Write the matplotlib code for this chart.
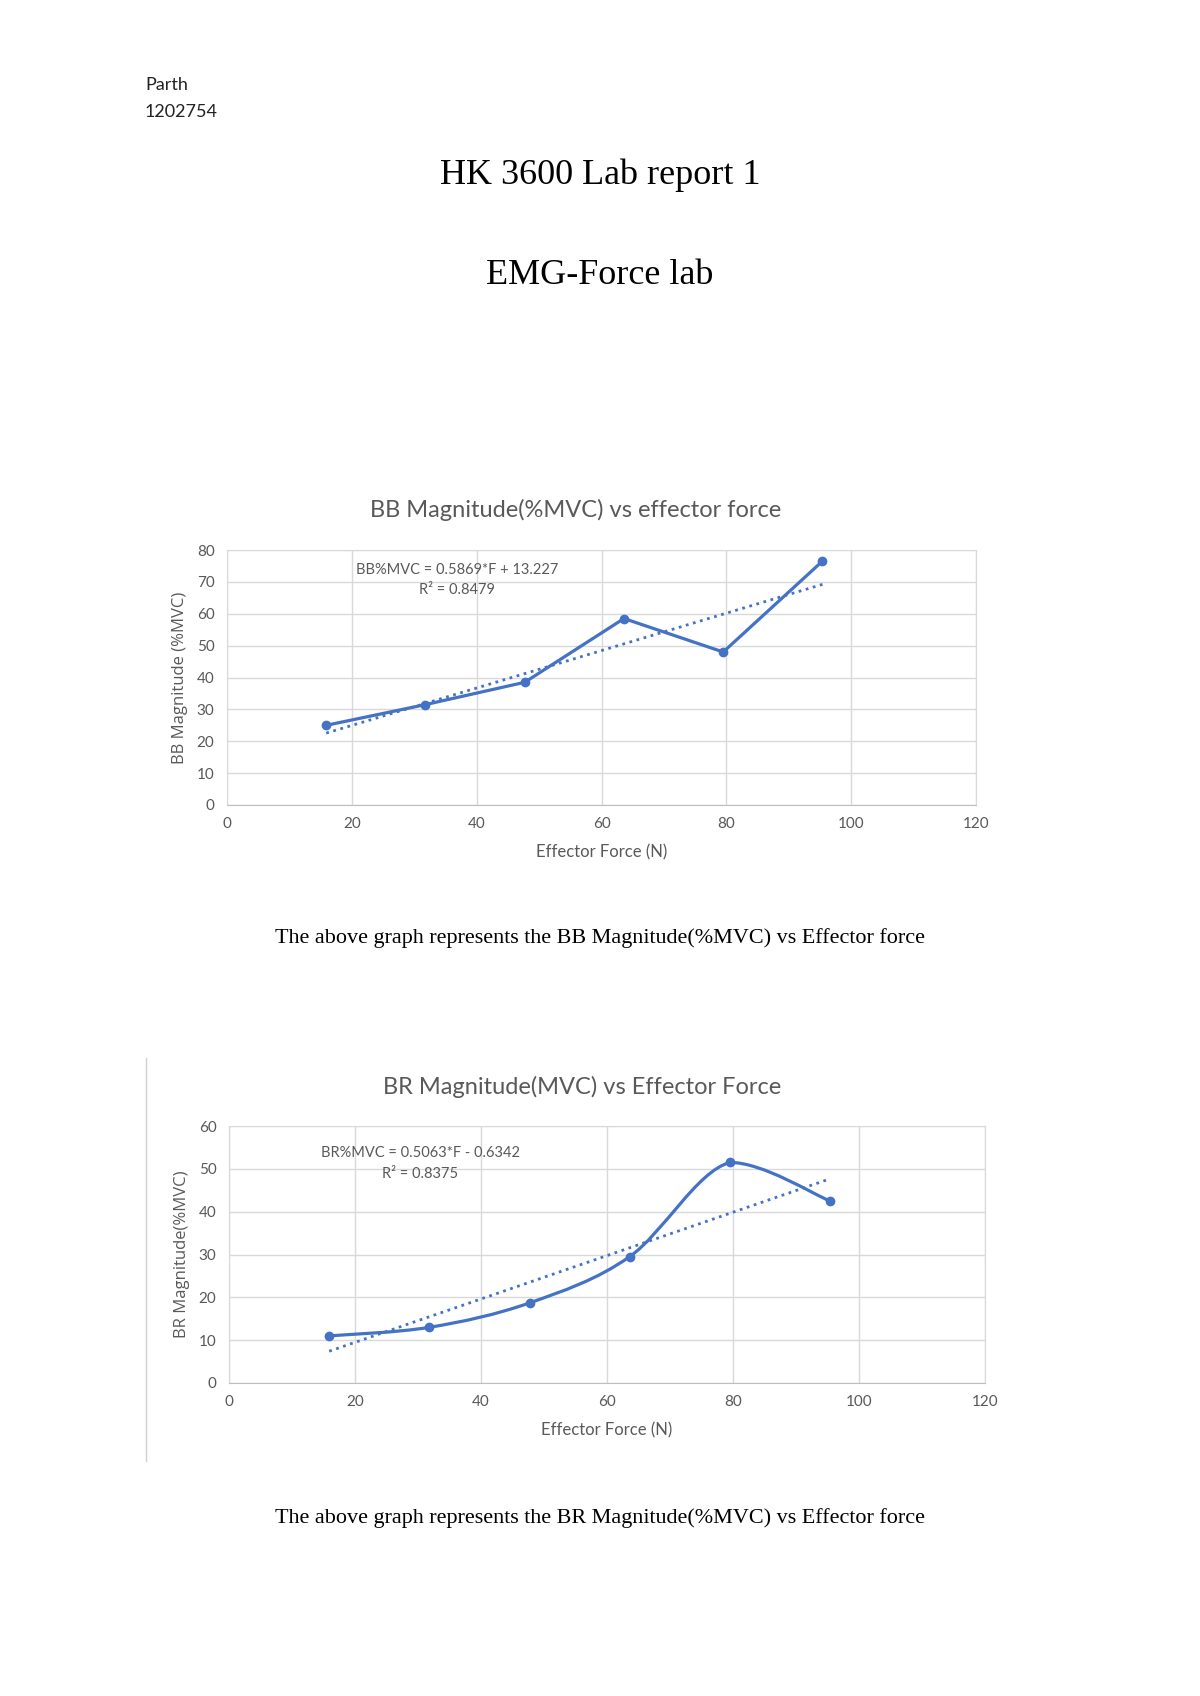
import numpy as np
import matplotlib
matplotlib.use("Agg")
import matplotlib.pyplot as plt
from matplotlib.path import Path
from matplotlib.patches import PathPatch

# donnees
force = [15.9, 31.8, 47.7, 63.6, 79.5, 95.4]
bb_mvc = [25.0, 31.5, 38.5, 58.5, 48.0, 76.5]
br_mvc = [11.0, 13.0, 18.7, 29.5, 51.5, 42.5]

bb_slope, bb_icpt = 0.5869, 13.227
br_slope, br_icpt = 0.5063, -0.6342

BLUE = "#4472C4"
GREY = "#595959"
GRID = "#D9D9D9"
CHART_FONT = ["Lato", "DejaVu Sans"]
SERIF = ["Liberation Serif", "DejaVu Serif"]


def smooth_path(x, y):
    # courbe lissee facon excel (bezier), sans depasser les points
    pts = np.column_stack([x, y]).astype(float)
    n = len(pts)
    verts = [pts[0]]
    codes = [Path.MOVETO]
    for i in range(n - 1):
        p0 = pts[max(i - 1, 0)]
        p1 = pts[i]
        p2 = pts[i + 1]
        p3 = pts[min(i + 2, n - 1)]
        c1 = p1 + (p2 - p0) / 6.0
        c2 = p2 - (p3 - p1) / 6.0
        lo, hi = min(p1[1], p2[1]), max(p1[1], p2[1])
        c1[1] = np.clip(c1[1], lo, hi)
        c2[1] = np.clip(c2[1], lo, hi)
        verts += [c1, c2, p2]
        codes += [Path.CURVE4] * 3
    return Path(verts, codes)


def draw_chart(rect, x, y, slope, icpt, ymax, title, tpos, ylabel, eq, r2, eqpos, smooth):
    ax = fig.add_axes(rect)
    ax.set_xlim(0, 120)
    ax.set_ylim(0, ymax)
    ax.set_xticks(np.arange(0, 121, 20))
    ax.set_yticks(np.arange(0, ymax + 1, 10))
    ax.grid(True, color=GRID, lw=1)
    ax.set_axisbelow(True)
    for s in ax.spines.values():
        s.set_color(GRID)
    ax.spines["bottom"].set_color("#BFBFBF")
    ax.tick_params(length=0, colors=GREY, labelsize=11, pad=9)
    for lab in ax.get_xticklabels() + ax.get_yticklabels():
        lab.set_family(CHART_FONT)

    if smooth:
        ax.add_patch(PathPatch(smooth_path(x, y), fc="none", ec=BLUE, lw=2.3))
        ax.plot(x, y, "o", color=BLUE, ms=6)
    else:
        ax.plot(x, y, "-o", color=BLUE, lw=2.3, ms=6)

    xt = np.array([x[0], x[-1]])
    ax.plot(xt, slope * xt + icpt, ":", color=BLUE, lw=2)

    ax.text(eqpos[0], eqpos[1], eq, transform=ax.transAxes, ha="center",
            va="center", fontsize=10.5, color=GREY, family=CHART_FONT)
    ax.text(eqpos[0], eqpos[1] - 0.078, r2, transform=ax.transAxes, ha="center",
            va="center", fontsize=10.5, color=GREY, family=CHART_FONT)

    fig.text(tpos[0] / 1200, 1 - tpos[1] / 1696, title, fontsize=17, color=GREY,
             family=CHART_FONT, ha="center", va="center")
    ax.set_xlabel("Effector Force (N)", fontsize=12, color=GREY,
                  family=CHART_FONT, labelpad=9)
    ax.set_ylabel(ylabel, fontsize=12, color=GREY,
                  family=["Open Sans", "DejaVu Sans"], labelpad=6)
    return ax


fig = plt.figure(figsize=(12, 16.96), dpi=100)
fig.patch.set_facecolor("white")

fig.text(145 / 1200, 1 - 85 / 1696, "Parth", fontsize=13, family=CHART_FONT,
         va="center", color="#222222")
fig.text(145 / 1200, 1 - 112 / 1696, "1202754", fontsize=13, family=CHART_FONT,
         va="center", color="#222222")
fig.text(0.5, 1 - 175 / 1696, "HK 3600 Lab report 1", fontsize=26,
         family=SERIF, ha="center", va="center")
fig.text(0.5, 1 - 276 / 1696, "EMG-Force lab", fontsize=26,
         family=SERIF, ha="center", va="center")

draw_chart([227 / 1200, 1 - 805 / 1696, 749 / 1200, 255 / 1696],
           force, bb_mvc, bb_slope, bb_icpt, 80,
           "BB Magnitude(%MVC) vs effector force", (576, 510), "BB Magnitude (%MVC)",
           "BB%MVC = 0.5869*F + 13.227", "R² = 0.8479", (0.307, 0.922), False)

draw_chart([229 / 1200, 1 - 1383 / 1696, 756 / 1200, 257 / 1696],
           force, br_mvc, br_slope, br_icpt, 60,
           "BR Magnitude(MVC) vs Effector Force", (582, 1087), "BR Magnitude(%MVC)",
           "BR%MVC = 0.5063*F - 0.6342", "R² = 0.8375", (0.253, 0.893), True)

# trait vertical a gauche du 2e graphique
fig.add_artist(plt.Line2D([146 / 1200, 146 / 1200], [1 - 1058 / 1696, 1 - 1461 / 1696],
                          color="#D0D0D0", lw=1))

fig.text(0.5, 1 - 938 / 1696,
         "The above graph represents the BB Magnitude(%MVC) vs Effector force",
         fontsize=15.9, family=SERIF, ha="center", va="center")
fig.text(0.5, 1 - 1518 / 1696,
         "The above graph represents the BR Magnitude(%MVC) vs Effector force",
         fontsize=15.9, family=SERIF, ha="center", va="center")

fig.savefig("out.png", dpi=100)
